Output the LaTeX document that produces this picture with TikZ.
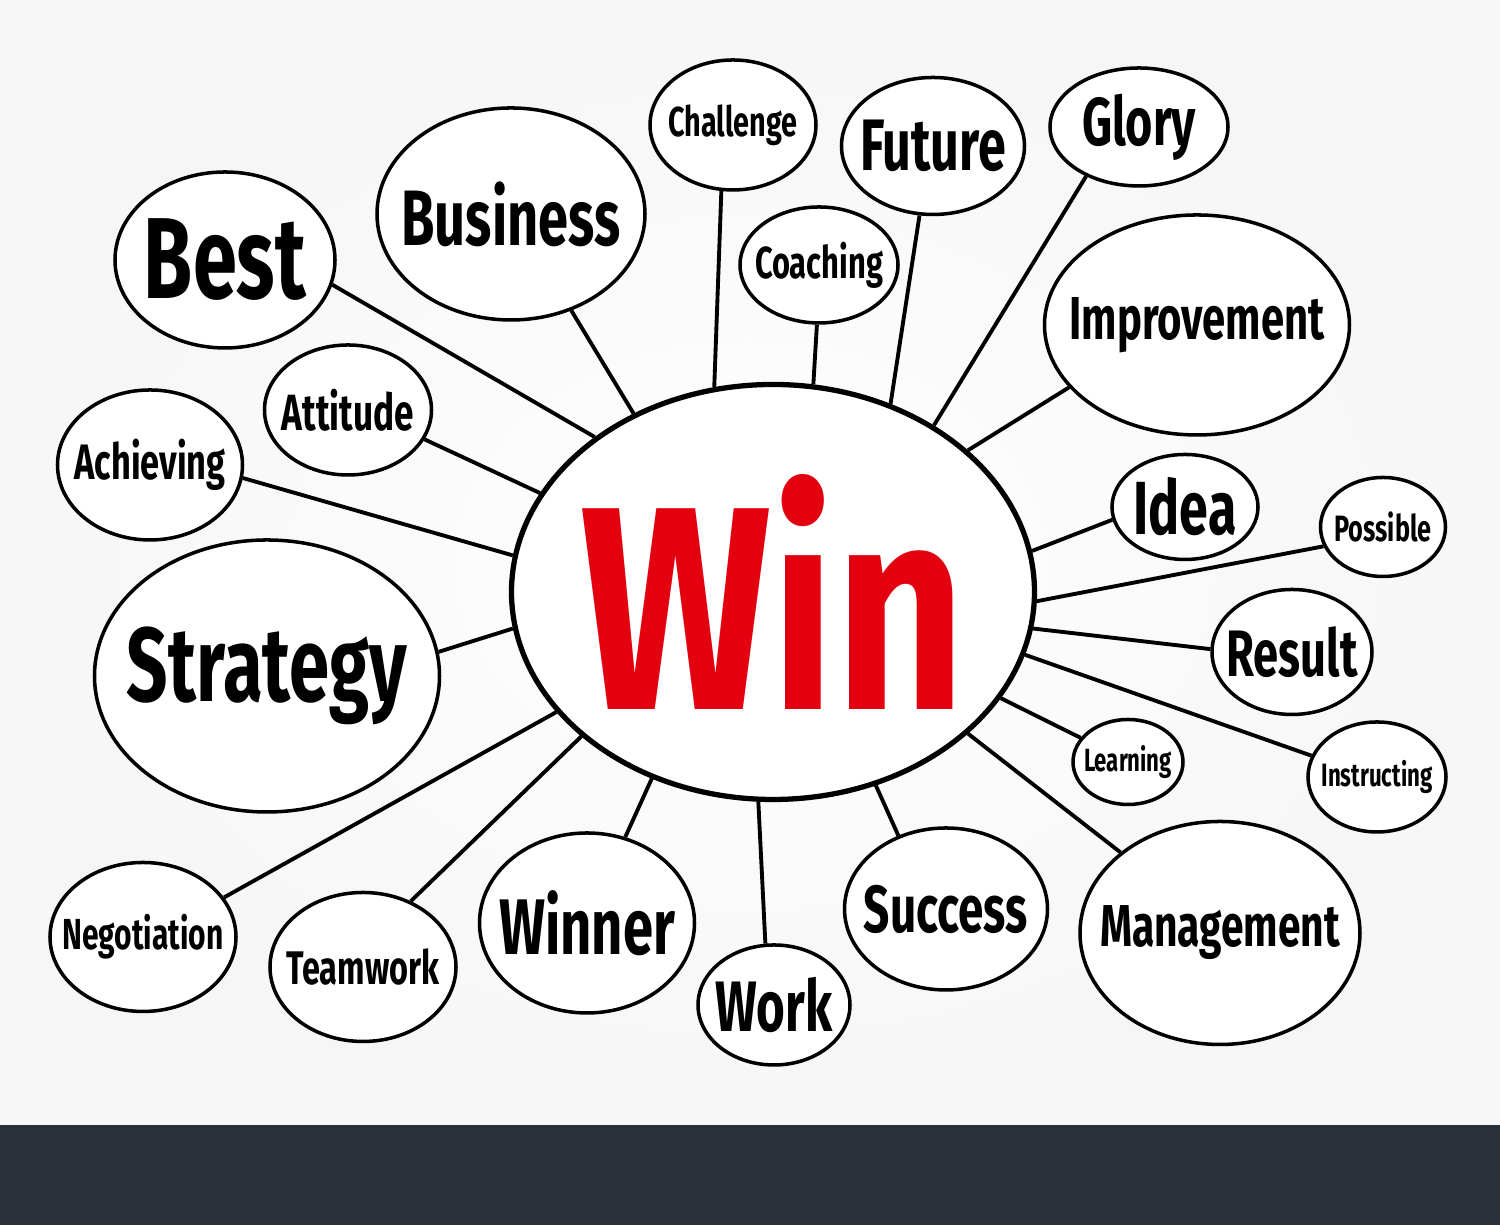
\documentclass[tikz,border=0pt]{standalone}
\usepackage{fontspec}
\setmainfont{Fira Sans}
\usepackage{graphicx}
\usetikzlibrary{shapes.geometric}
\newcommand{\word}[2]{\makebox[0pt]{\resizebox{#1cm}{!}{\scalebox{1}[1.45]{\bfseries #2}}}}
\definecolor{winred}{HTML}{E3000F}
\definecolor{barcol}{HTML}{2B3038}

\begin{document}
\begin{tikzpicture}[
    bubble/.style={ellipse, draw, line width=1pt, fill=white, inner sep=0pt},
    link/.style={line width=1.1pt}
  ]
    \useasboundingbox (0,0) rectangle (15,12.25);
    \shade[inner color=white, outer color=gray!7] (0,1) rectangle (15,12.25);
    \fill[barcol] (0,0) rectangle (15,1);

    \node[bubble, line width=1.5pt, minimum width=5.23cm, minimum height=4.15cm] (win) at (7.73,6.33)
      {\makebox[0pt]{\resizebox{3.85cm}{2.35cm}{\color{winred}\bfseries Win}}};

    \node[bubble, minimum width=2.20cm, minimum height=1.76cm] (best) at (2.25,9.65) {\word{1.62}{Best}};
    \node[bubble, minimum width=2.68cm, minimum height=2.12cm] (business) at (5.11,10.11) {\word{2.19}{Business}};
    \node[bubble, minimum width=1.66cm, minimum height=1.30cm] (challenge) at (7.33,11.00) {\word{1.29}{Challenge}};
    \node[bubble, minimum width=1.58cm, minimum height=1.16cm] (coaching) at (8.19,9.60) {\word{1.28}{Coaching}};
    \node[bubble, minimum width=1.83cm, minimum height=1.37cm] (future) at (9.33,10.79) {\word{1.46}{Future}};
    \node[bubble, minimum width=1.78cm, minimum height=1.18cm] (glory) at (11.39,10.98) {\word{1.14}{Glory}};
    \node[bubble, minimum width=3.05cm, minimum height=2.20cm] (improve) at (11.97,9.00) {\word{2.55}{Improvement}};
    \node[bubble, minimum width=1.67cm, minimum height=1.30cm] (attitude) at (3.48,8.15) {\word{1.32}{Attitude}};
    \node[bubble, minimum width=1.85cm, minimum height=1.50cm] (achieve) at (1.50,7.60) {\word{1.51}{Achieving}};
    \node[bubble, minimum width=3.45cm, minimum height=2.72cm] (strategy) at (2.67,5.49) {\word{2.80}{Strategy}};
    \node[bubble, minimum width=1.46cm, minimum height=1.05cm] (idea) at (11.85,7.18) {\word{1.03}{Idea}};
    \node[bubble, minimum width=1.25cm, minimum height=0.99cm] (possible) at (13.83,6.98) {\word{0.97}{Possible}};
    \node[bubble, minimum width=1.60cm, minimum height=1.25cm] (result) at (12.92,5.73) {\word{1.31}{Result}};
    \node[bubble, minimum width=1.10cm, minimum height=0.85cm] (learning) at (11.28,4.63) {\word{0.88}{Learning}};
    \node[bubble, minimum width=1.38cm, minimum height=1.10cm] (instruct) at (13.77,4.48) {\word{1.11}{Instructing}};
    \node[bubble, minimum width=2.80cm, minimum height=2.23cm] (manage) at (12.20,2.92) {\word{2.40}{Management}};
    \node[bubble, minimum width=1.86cm, minimum height=1.49cm] (negotiate) at (1.43,2.88) {\word{1.61}{Negotiation}};
    \node[bubble, minimum width=1.86cm, minimum height=1.49cm] (teamwork) at (3.63,2.58) {\word{1.53}{Teamwork}};
    \node[bubble, minimum width=2.15cm, minimum height=1.80cm] (winner) at (5.87,3.02) {\word{1.76}{Winner}};
    \node[bubble, minimum width=1.52cm, minimum height=1.20cm] (work) at (7.74,2.20) {\word{1.17}{Work}};
    \node[bubble, minimum width=2.03cm, minimum height=1.62cm] (success) at (9.46,3.16) {\word{1.64}{Success}};

    \draw[link] (win.139) -- (best.-13);
    \draw[link] (win.128) -- (business.-58);
    \draw[link] (win.106) -- (challenge.-100);
    \draw[link] (win.79) -- (coaching.-92);
    \draw[link] (win.58) -- (future.-101);
    \draw[link] (win.46) -- (glory.-137);
    \draw[link] (win.36) -- (improve.206);
    \draw[link] (win.9) -- (idea.190);
    \draw[link] (win.-2) -- (possible.198);
    \draw[link] (win.-8) -- (result.178);
    \draw[link] (win.-25) -- (learning.153);
    \draw[link] (win.-14) -- (instruct.162);
    \draw[link] (win.-36) -- (manage.141);
    \draw[link] (win.-62) -- (success.123);
    \draw[link] (win.-94) -- (work.98);
    \draw[link] (win.-123) -- (winner.66);
    \draw[link] (win.217) -- (teamwork.54);
    \draw[link] (win.209) -- (negotiate.26);
    \draw[link] (win.188) -- (strategy.8);
    \draw[link] (win.172) -- (achieve.-8);
    \draw[link] (win.157) -- (attitude.-21);
  \end{tikzpicture}
\end{document}
